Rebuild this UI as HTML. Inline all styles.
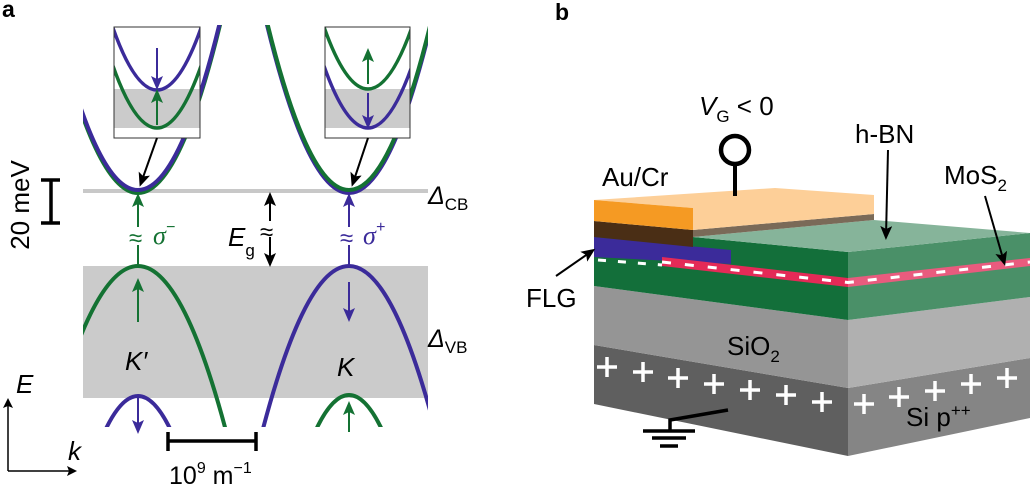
<!DOCTYPE html>
<html><head><meta charset="utf-8"><style>
html,body{margin:0;padding:0;background:#fff;}
svg{display:block;font-family:"Liberation Sans",sans-serif;}
</style></head><body>
<svg width="1030" height="485" viewBox="0 0 1030 485" xmlns="http://www.w3.org/2000/svg">
<defs>
<marker id="ab" markerWidth="10" markerHeight="10" refX="8" refY="5" orient="auto" markerUnits="userSpaceOnUse"><path d="M0,0 L10,5 L0,10 L2,5z" fill="#000"/></marker>
<marker id="ag" markerWidth="14" markerHeight="12" refX="10" refY="6" orient="auto" markerUnits="userSpaceOnUse"><path d="M0,0 L14,6 L0,12 L3,6z" fill="#147233"/></marker>
<marker id="ap" markerWidth="14" markerHeight="12" refX="10" refY="6" orient="auto" markerUnits="userSpaceOnUse"><path d="M0,0 L14,6 L0,12 L3,6z" fill="#3b2b9a"/></marker>
<marker id="ak" markerWidth="14" markerHeight="12" refX="10" refY="6" orient="auto" markerUnits="userSpaceOnUse"><path d="M0,0 L14,6 L0,12 L3,6z" fill="#000"/></marker>
<clipPath id="ca"><rect x="83" y="25" width="345" height="402"/></clipPath>
<clipPath id="b1"><rect x="114" y="27" width="86" height="111"/></clipPath>
<clipPath id="b2"><rect x="325" y="27" width="85" height="111"/></clipPath>
</defs>
<!-- panel a -->
<text x="2" y="17" font-size="23" font-weight="bold">a</text>
<rect x="83" y="266" width="345" height="132" fill="#cbcbcb"/>
<rect x="83" y="189" width="345" height="4" fill="#c8c8c8"/>
<g clip-path="url(#ca)" fill="none" stroke-width="4">
<path d="M38,-57 Q138,443 238,-57" stroke="#147233"/>
<path d="M38,-60 Q138,440 238,-60" stroke="#3b2b9a"/>
<path d="M249,-57 Q349,443 449,-57" stroke="#3b2b9a"/>
<path d="M249,-60 Q349,440 449,-60" stroke="#147233"/>
<path d="M38,479 Q138,53 238,479" stroke="#147233"/>
<path d="M249,486 Q349,46 449,486" stroke="#3b2b9a"/>
<path d="M98,447 Q138,345 178,447" stroke="#3b2b9a"/>
<path d="M309,446 Q349,344 389,446" stroke="#147233"/>
</g>
<!-- insets -->
<rect x="114" y="27" width="86" height="111" fill="#fff"/>
<rect x="114" y="89" width="86" height="39" fill="#cbcbcb"/>
<g clip-path="url(#b1)" fill="none" stroke-width="3.5">
<path d="M107,10 Q157,170 207,10" stroke="#3b2b9a"/>
<path d="M107,48 Q157,208 207,48" stroke="#147233"/>
</g>
<rect x="114" y="27" width="86" height="111" fill="none" stroke="#333" stroke-width="1"/>
<rect x="325" y="27" width="85" height="111" fill="#fff"/>
<rect x="325" y="89" width="85" height="39" fill="#cbcbcb"/>
<g clip-path="url(#b2)" fill="none" stroke-width="3.5">
<path d="M318,9 Q368,169 418,9" stroke="#147233"/>
<path d="M318,48 Q368,208 418,48" stroke="#3b2b9a"/>
</g>
<rect x="325" y="27" width="85" height="111" fill="none" stroke="#333" stroke-width="1"/>
<line x1="157" y1="48" x2="157" y2="86" stroke="#3b2b9a" stroke-width="2" marker-end="url(#ap)"/>
<line x1="157" y1="125" x2="157" y2="93" stroke="#147233" stroke-width="2" marker-end="url(#ag)"/>
<line x1="368" y1="84" x2="368" y2="52" stroke="#147233" stroke-width="2" marker-end="url(#ag)"/>
<line x1="368" y1="93" x2="368" y2="125" stroke="#3b2b9a" stroke-width="2" marker-end="url(#ap)"/>
<line x1="157" y1="138" x2="141" y2="183" stroke="#000" stroke-width="2" marker-end="url(#ak)"/>
<line x1="368" y1="138" x2="353" y2="183" stroke="#000" stroke-width="2" marker-end="url(#ak)"/>
<!-- transitions -->
<line x1="138" y1="266" x2="138" y2="197" stroke="#147233" stroke-width="2" marker-end="url(#ag)"/>
<line x1="349" y1="266" x2="349" y2="197" stroke="#3b2b9a" stroke-width="2" marker-end="url(#ap)"/>
<rect x="129" y="227" width="18" height="18" fill="#fff"/><rect x="340" y="227" width="18" height="18" fill="#fff"/>
<text x="129" y="246" font-size="24" fill="#147233">≈</text>
<text x="340" y="246" font-size="24" fill="#3b2b9a">≈</text>
<text x="153" y="244" font-size="26" font-style="italic" fill="#147233" font-family="Liberation Serif">σ<tspan font-size="16" dy="-12" font-family="Liberation Sans">−</tspan></text>
<text x="363" y="244" font-size="26" font-style="italic" fill="#3b2b9a" font-family="Liberation Serif">σ<tspan font-size="16" dy="-12" font-family="Liberation Sans">+</tspan></text>
<line x1="270" y1="215" x2="270" y2="196" stroke="#000" stroke-width="2" marker-end="url(#ak)"/>
<line x1="270" y1="215" x2="270" y2="263" stroke="#000" stroke-width="2" marker-end="url(#ak)"/>
<rect x="261" y="221" width="18" height="16" fill="#fff"/>
<text x="260" y="240" font-size="24">≈</text>
<text x="228" y="246" font-size="26" font-style="italic">E<tspan font-size="17" font-style="normal" dy="10">g</tspan></text>
<line x1="138" y1="322" x2="138" y2="282" stroke="#147233" stroke-width="2" marker-end="url(#ag)"/>
<line x1="349" y1="282" x2="349" y2="318" stroke="#3b2b9a" stroke-width="2" marker-end="url(#ap)"/>
<line x1="138" y1="398" x2="138" y2="430" stroke="#3b2b9a" stroke-width="2" marker-end="url(#ap)"/>
<line x1="349" y1="432" x2="349" y2="405" stroke="#147233" stroke-width="2" marker-end="url(#ag)"/>
<text x="125" y="370" font-size="26" font-style="italic">K′</text>
<text x="337" y="376" font-size="26" font-style="italic">K</text>
<text x="428" y="204" font-size="25" font-style="italic">Δ<tspan font-size="17" font-style="normal" dy="6">CB</tspan></text>
<text x="428" y="347" font-size="25" font-style="italic">Δ<tspan font-size="17" font-style="normal" dy="6">VB</tspan></text>
<text transform="translate(29,205) rotate(-90)" font-size="26" text-anchor="middle">20 meV</text>
<path d="M41,180 H60 M51,180 V223 M41,223 H60" stroke="#000" stroke-width="3.5" fill="none"/>
<path d="M168,432 V451 M168,441 H256 M256,432 V451" stroke="#000" stroke-width="3.5" fill="none"/>
<text x="169" y="484" font-size="25">10<tspan font-size="16" dy="-11">9</tspan><tspan dy="11"> m</tspan><tspan font-size="16" dy="-11">−1</tspan></text>
<line x1="8" y1="471" x2="8" y2="400" stroke="#000" stroke-width="1.5" marker-end="url(#ab)"/>
<line x1="8" y1="471" x2="75" y2="471" stroke="#000" stroke-width="1.5" marker-end="url(#ab)"/>
<text x="16" y="393" font-size="26" font-style="italic">E</text>
<text x="68" y="460" font-size="26" font-style="italic">k</text>
<!-- panel b -->
<text x="555" y="20" font-size="23" font-weight="bold">b</text>
<polygon points="594,345 848,388 848,456 594,404" fill="#5f5f5f"/>
<polygon points="848,388 1030,358 1030,418 848,456" fill="#858585"/>
<polygon points="594,286 848,320 848,388 594,345" fill="#959595"/>
<polygon points="848,320 1030,297 1030,358 848,388" fill="#b0b0b0"/>
<polygon points="594,237 693,237 848,252 848,320 594,286" fill="#136f3a"/>
<polygon points="848,252 1030,233 1030,297 848,320" fill="#4a9068"/>
<polygon points="693,237 874,220 1030,233 848,252" fill="#86b49a"/>
<polygon points="594,237 731,250 731,264 594,257" fill="#3b2b9a"/>
<polygon points="662,257 848,278 848,287 662,266" fill="#e42a57"/>
<polygon points="848,278 1030,258 1030,266 848,287" fill="#e95b7e"/>
<path d="M598,260 L662,265" stroke="#fff" stroke-width="3" stroke-dasharray="8,12"/>
<path d="M662,262 L848,282.5 L1030,262" stroke="#fff" stroke-width="3" stroke-dasharray="9,14" fill="none"/>
<polygon points="594,221 693,230 693,247 594,237" fill="#4a2e15"/>
<polygon points="693,230 874,214 874,220 693,237" fill="#7a6a58"/>
<polygon points="594,200 775,188 874,195 874,214 693,230 693,208" fill="#fdcf98"/>
<polygon points="594,200 693,208 693,230 594,221" fill="#f59a23"/>
<circle cx="735" cy="150" r="14" fill="none" stroke="#000" stroke-width="4.5"/>
<line x1="735" y1="164" x2="735" y2="196" stroke="#000" stroke-width="4"/>
<text x="699" y="115" font-size="26"><tspan font-style="italic">V</tspan><tspan font-size="17" dy="7">G</tspan><tspan dy="-7"> &lt; 0</tspan></text>
<text x="602" y="186" font-size="26">Au/Cr</text>
<text x="855" y="143" font-size="26">h-BN</text>
<text x="944" y="184" font-size="26">MoS<tspan font-size="17" dy="7">2</tspan></text>
<text x="526" y="307" font-size="26">FLG</text>
<text x="727" y="355" font-size="26">SiO<tspan font-size="17" dy="7">2</tspan></text>
<text x="906" y="426" font-size="26">Si p<tspan font-size="17" dy="-10">++</tspan></text>
<line x1="888" y1="150" x2="886" y2="236" stroke="#000" stroke-width="2" marker-end="url(#ak)"/>
<line x1="985" y1="196" x2="1004" y2="262" stroke="#000" stroke-width="2" marker-end="url(#ak)"/>
<line x1="556" y1="276" x2="592" y2="251" stroke="#000" stroke-width="2" marker-end="url(#ak)"/>
<g stroke="#fff" stroke-width="3.5">
<path d="M597,367h20M607,357v20"/><path d="M633,372h20M643,362v20"/><path d="M668,378h20M678,368v20"/>
<path d="M704,384h20M714,374v20"/><path d="M740,390h20M750,380v20"/><path d="M776,395h20M786,385v20"/>
<path d="M812,402h20M822,392v20"/><path d="M854,404h20M864,394v20"/><path d="M889,397h20M899,387v20"/>
<path d="M925,391h20M935,381v20"/><path d="M961,384h20M971,374v20"/><path d="M997,378h20M1007,368v20"/>
</g>
<path d="M728,410 L670,420 L670,431 M643,431 H695 M652,438 H686 M660,446 H678" stroke="#000" stroke-width="3.5" fill="none"/>
</svg>
</body></html>
